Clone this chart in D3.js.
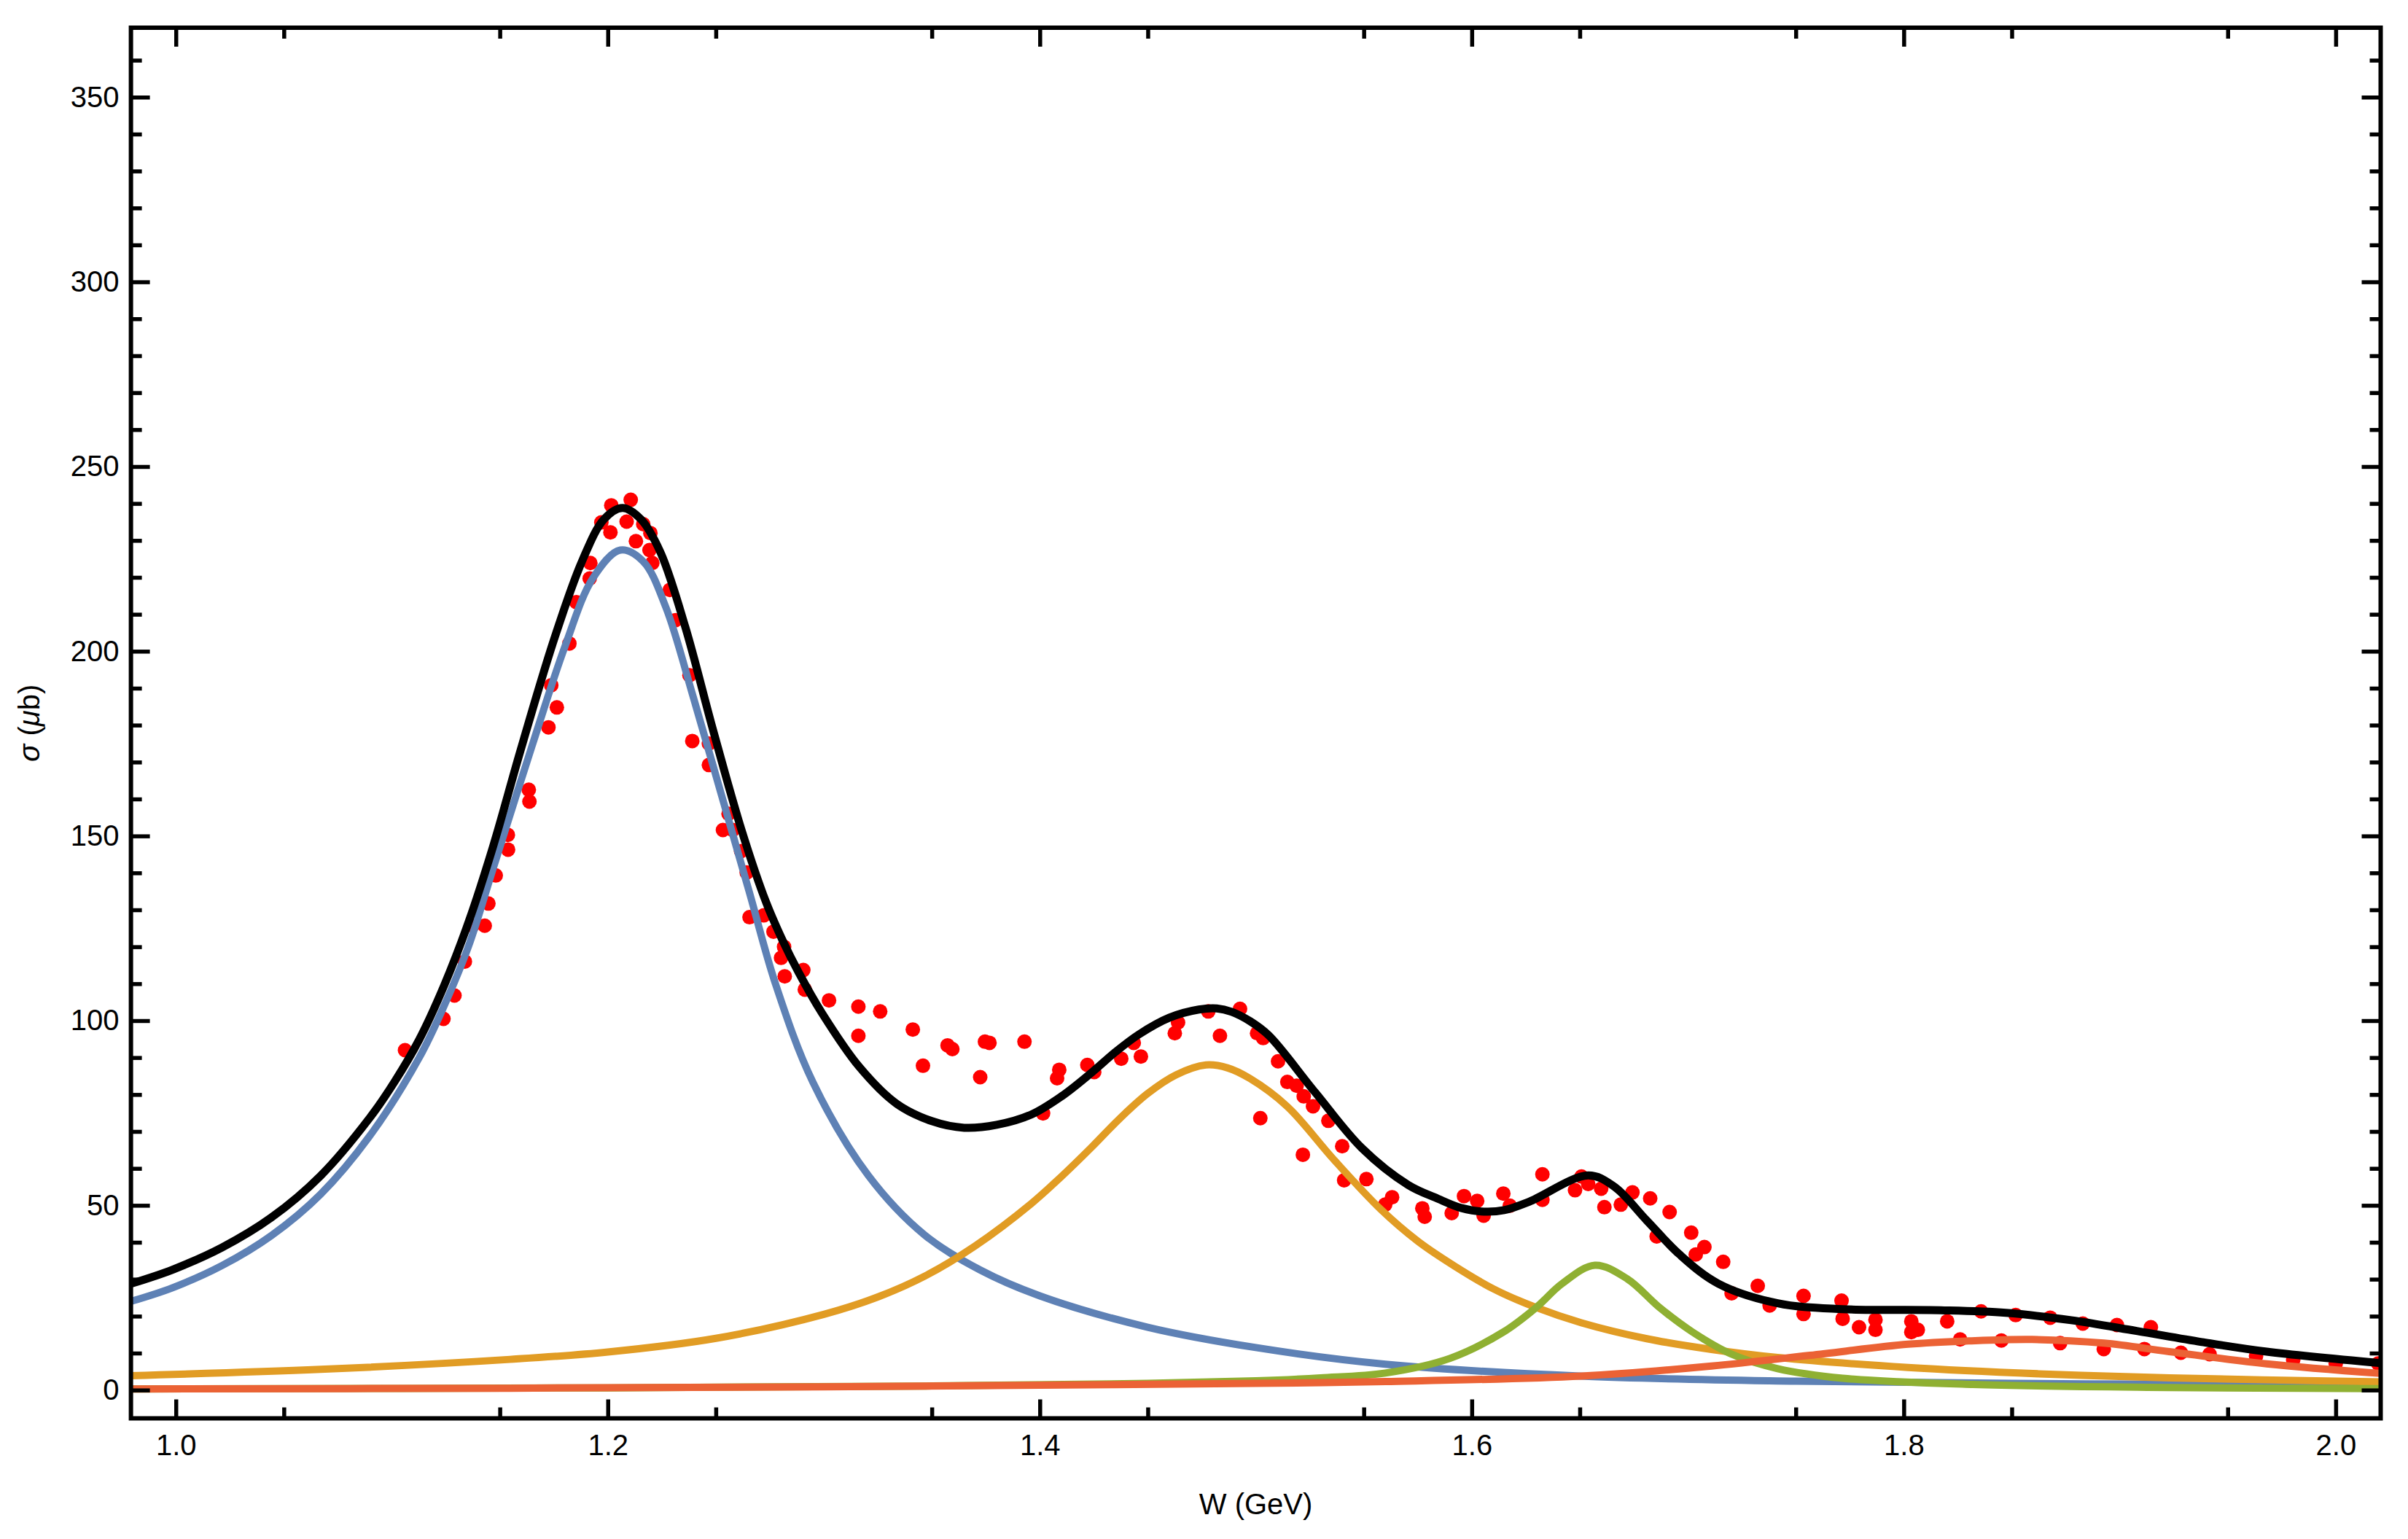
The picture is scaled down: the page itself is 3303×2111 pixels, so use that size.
<!DOCTYPE html>
<html>
<head>
<meta charset="utf-8">
<script src="https://cdn.jsdelivr.net/npm/d3@7"></script>
<style>
body { margin: 0; background: #fff; }
svg { display: block; font-family: "Liberation Sans", Arial, sans-serif; }
</style>
</head>
<body>
<div id="chart"></div>
<script>
// measured cross section, W in GeV, sigma in microbarn
var dataW = [
  1.1061, 1.1239, 1.129, 1.1338, 1.1373, 1.143, 1.1447, 1.1481, 1.1538, 1.1537,
  1.1634, 1.1637, 1.1725, 1.1738, 1.1764, 1.1822, 1.1854, 1.1916, 1.1919, 1.197,
  1.2012, 1.2016, 1.2087, 1.2106, 1.213, 1.2164, 1.2193, 1.2197, 1.2206, 1.2287,
  1.2313, 1.2378, 1.2391, 1.2468, 1.2468, 1.2533, 1.2559, 1.2578, 1.2617, 1.2643,
  1.2656, 1.2722, 1.2767, 1.2816,
  1.2802, 1.2819, 1.2905, 1.2912, 1.3024, 1.316, 1.3261, 1.3412, 1.316, 1.3573,
  1.3595, 1.3746, 1.3767, 1.3929, 1.3459, 1.3724, 1.409, 1.408, 1.422, 1.4252,
  1.4377, 1.4435, 1.4468, 1.4015, 1.464, 1.4625, 1.478, 1.4927, 1.4834, 1.5006,
  1.5034, 1.5103, 1.5146, 1.5189, 1.5222, 1.5265, 1.5336, 1.5021, 1.54, 1.5218,
  1.5409, 1.5512, 1.5631, 1.5599, 1.5771, 1.5782, 1.5907,
  1.5964, 1.6025, 1.6055, 1.6146, 1.6176, 1.6327, 1.6327, 1.6478, 1.6508, 1.6539,
  1.6599, 1.6614, 1.669, 1.6744, 1.6826, 1.6856, 1.6916, 1.7016, 1.7077, 1.7037,
  1.7164, 1.7203, 1.7324, 1.7379, 1.7536, 1.7536, 1.7712, 1.7717, 1.7793, 1.7869,
  1.7869, 1.8035, 1.8035, 1.8065, 1.8201, 1.8261, 1.8358, 1.8452, 1.8518, 1.8678,
  1.8724, 1.8829, 1.8926, 1.8987, 1.9114, 1.9144, 1.9283, 1.9416, 1.9631, 1.9803,
  2.0, 2.0196
];
var dataSigma = [
  92, 100.5, 106.8, 116, 125.7, 125.7, 131.7, 139.3, 146.3, 150.3,
  162.5, 159.3, 179.4, 190.8, 184.8, 202.1, 213.3, 219.7, 223.9, 234.9,
  232.2, 239.5, 235.1, 241.0, 229.8, 234.4, 227.4, 232, 223.9, 216.6,
  208.4, 193.5, 175.7, 175, 169.2, 151.6, 156, 151.6, 145.9, 140.1,
  128, 128.5, 124.1, 120,
  117, 112, 113.7, 108.4, 105.5, 103.8, 102.5, 97.6, 95.9, 93.3,
  92.3, 94.3, 94, 94.3, 87.8, 84.7, 86.7, 84.4, 88, 86.1,
  89.7, 94, 90.3, 74.9, 99.5, 96.6, 102.5, 103.2, 95.9, 96.6,
  95.3, 89, 83.4, 82.4, 79.5, 76.8, 72.9, 73.6, 66, 63.7,
  56.8, 57.1, 52.2, 50.2, 49.2, 46.9, 47.9,
  52.5, 51.2, 47.2, 53.2, 49.9, 58.4, 51.5, 54.1, 57.8, 55.8,
  54.5, 49.5, 50.2, 53.5, 51.9, 41.6, 48.2, 42.6, 38.7, 36.7,
  34.7, 26.2, 28.2, 22.9, 25.5, 20.6, 24.2, 19.3, 17, 19,
  16.3, 18.6, 15.7, 16.3, 18.6, 13.7, 21.3, 13.4, 20.3, 19.6,
  12.7, 18, 11.1, 17.6, 11.1, 17, 10.1, 9.7, 9.2, 8.2,
  7.2, 7.2
];

// full fit (black)
var totalW = [0.9792, 0.9985, 1.0214, 1.0442, 1.067, 1.0899, 1.1013, 1.1127, 1.1242, 1.1356,
  1.147, 1.1596, 1.1751, 1.188, 1.1983, 1.2068, 1.2152, 1.2242, 1.2358, 1.2488,
  1.2617, 1.2733, 1.2811, 1.2884, 1.2992, 1.3164, 1.3337, 1.35, 1.365, 1.38,
  1.3961, 1.41, 1.4241, 1.435, 1.4457, 1.46, 1.4736, 1.482, 1.4888, 1.4975,
  1.506, 1.5276, 1.5491, 1.5706, 1.5843, 1.595, 1.6055, 1.615, 1.6266, 1.6539,
  1.6659, 1.681, 1.6962, 1.7142, 1.7416, 1.7717, 1.8171, 1.8473, 1.8775, 1.9078,
  1.938, 1.968, 2.0208];
var totalSigma = [28.8, 32.6, 38.6, 46.7, 58.0, 73.8, 83.5, 94.9, 109.5, 126.8,
  147.4, 173.2, 203.2, 224.3, 235.8, 238.8, 235.8, 227, 206.7, 178.5,
  152, 132, 121.5, 113, 102, 87.5, 77.5, 72.8, 71.0, 71.8,
  74.6, 79.5, 86, 91.5, 96.2, 100.8, 103, 103.3, 102.4, 99.8,
  96, 80.5, 65.5, 55.5, 51.8, 49.3, 48.3, 48.7, 51, 58.1,
  55.1, 45.9, 36.7, 28.8, 23.5, 21.9, 21.6, 20.9, 18.9, 16,
  13, 10.4, 7.3];

// Delta(1232) (blue)
var deltaW = [0.9792, 0.9985, 1.0214, 1.0442, 1.067, 1.0899, 1.1127, 1.1242, 1.1356, 1.147,
  1.1647, 1.1802, 1.1932, 1.2058, 1.2164, 1.2268, 1.2397, 1.2527, 1.2656, 1.2776,
  1.2949, 1.3207, 1.3466, 1.3724, 1.40, 1.45, 1.50, 1.56, 1.65, 1.75,
  1.85, 1.95, 2.0208];
var deltaSigma = [24, 27.7, 33.7, 41.8, 53.0, 68.9, 90, 104, 120.3, 141.4,
  174, 201.4, 219.9, 227.4, 224.3, 212, 187.3, 160.9, 134.6, 110,
  83.4, 58, 42, 32.5, 25.5, 17, 11.5, 7, 3.8, 2.4,
  1.8, 1.5, 1.3];

// N(1440) (orange)
var roperW = [0.9792, 1.067, 1.1547, 1.2, 1.25, 1.3, 1.325, 1.3466, 1.37, 1.3961,
  1.41, 1.4241, 1.437, 1.45, 1.463, 1.4769, 1.487, 1.4974, 1.5145, 1.5361,
  1.5577, 1.575, 1.5922, 1.61, 1.63, 1.6508, 1.681, 1.711, 1.7416, 1.802,
  1.8625, 1.923, 2.0208];
var roperSigma = [3.9, 5.6, 8.3, 10.3, 14, 20.5, 25.2, 30.8, 39, 50.5,
  57.8, 65.8, 73.5, 80.3, 85.3, 88, 87.2, 84.3, 76.8, 62.4,
  49, 40.3, 33.5, 27.4, 22.3, 18.2, 13.9, 11, 8.8, 6.1,
  4.4, 3.3, 2.2];

// N(1650) (green)
var n1650W = [0.9792, 1.2, 1.35, 1.45, 1.5, 1.53, 1.56, 1.59, 1.6146, 1.6297,
  1.6418, 1.657, 1.672, 1.687, 1.7022, 1.7203, 1.7416, 1.7717, 1.832, 1.923, 2.0208];
var n1650Sigma = [0.3, 0.6, 1.1, 1.8, 2.5, 3.3, 4.6, 8.6, 15.7, 22.3,
  28.8, 33.8, 30.1, 22.3, 15.7, 9.7, 5.8, 3.2, 1.5, 0.7, 0.4];

// high mass state (red-orange)
var highW = [0.9792, 1.155, 1.3, 1.4, 1.5, 1.5601, 1.6508, 1.711, 1.7566, 1.802,
  1.83, 1.8594, 1.8926, 1.9229, 1.968, 2.0208];
var highSigma = [0.3, 0.5, 0.9, 1.3, 1.8, 2.3, 3.8, 6.5, 9.4, 12.4,
  13.3, 13.7, 12.7, 10.4, 7.1, 4.5];

var xTickValues = [1.0, 1.2, 1.4, 1.6, 1.8, 2.0];
var xTickLabels = ["1.0", "1.2", "1.4", "1.6", "1.8", "2.0"];
var yTickValues = [0, 50, 100, 150, 200, 250, 300, 350];
var yTickLabels = ["0", "50", "100", "150", "200", "250", "300", "350"];

var width = 3303, height = 2111;
var frameLeft = 179.6, frameRight = 3265.5, frameTop = 38, frameBottom = 1945.5;

var svg = d3.select("#chart").append("svg")
    .attr("width", width)
    .attr("height", height);

var x = d3.scaleLinear().domain([0.9792, 2.0208]).range([frameLeft, frameRight]);
var y = d3.scaleLinear().domain([-7.66, 368.8]).range([frameBottom, frameTop]);

svg.append("clipPath").attr("id", "plotclip")
  .append("rect")
    .attr("x", frameLeft).attr("y", frameTop)
    .attr("width", frameRight - frameLeft).attr("height", frameBottom - frameTop);

var plot = svg.append("g").attr("clip-path", "url(#plotclip)");

// points first, curves on top
plot.selectAll("circle")
  .data(dataW.map((w, i) => [w, dataSigma[i]]))
  .join("circle")
    .attr("cx", d => x(d[0]))
    .attr("cy", d => y(d[1]))
    .attr("r", 10)
    .attr("fill", "#ff0000");

var line = d3.line()
    .x(d => x(d[0]))
    .y(d => y(d[1]))
    .curve(d3.curveCatmullRom.alpha(0.5));

var curves = [
  {w: deltaW, s: deltaSigma, color: "#5e81b5", sw: 10},
  {w: roperW, s: roperSigma, color: "#e19c24", sw: 10},
  {w: n1650W, s: n1650Sigma, color: "#8fb032", sw: 10},
  {w: highW, s: highSigma, color: "#eb6235", sw: 10},
  {w: totalW, s: totalSigma, color: "#000000", sw: 11}
];

curves.forEach(function(c) {
  plot.append("path")
    .datum(c.w.map((w, i) => [w, c.s[i]]))
    .attr("fill", "none")
    .attr("stroke", c.color)
    .attr("stroke-width", c.sw)
    .attr("stroke-linejoin", "round")
    .attr("d", line);
});

// ticks, all pointing inwards
var xMinor = d3.range(1.05, 2.0, 0.1).map(v => +v.toFixed(2));
var yMinor = d3.range(10, 370, 10).filter(v => v % 50 != 0);

function styleAxis(g) {
  g.select(".domain").remove();
  g.selectAll(".tick line").attr("stroke", "#000").attr("stroke-width", 5.5);
  g.selectAll(".tick text").attr("fill", "#000").style("font-size", "40px");
}

svg.append("g")
    .attr("transform", "translate(0," + frameBottom + ")")
    .call(d3.axisBottom(x).tickValues(xTickValues)
      .tickFormat((d, i) => xTickLabels[i]).tickSize(-26).tickPadding(22))
    .call(styleAxis);
svg.append("g")
    .attr("transform", "translate(0," + frameBottom + ")")
    .call(d3.axisBottom(x).tickValues(xMinor).tickFormat("").tickSize(-15))
    .call(styleAxis);
svg.append("g")
    .attr("transform", "translate(0," + frameTop + ")")
    .call(d3.axisTop(x).tickValues(xTickValues).tickFormat("").tickSize(-26))
    .call(styleAxis);
svg.append("g")
    .attr("transform", "translate(0," + frameTop + ")")
    .call(d3.axisTop(x).tickValues(xMinor).tickFormat("").tickSize(-15))
    .call(styleAxis);

svg.append("g")
    .attr("transform", "translate(" + frameLeft + ",0)")
    .call(d3.axisLeft(y).tickValues(yTickValues)
      .tickFormat((d, i) => yTickLabels[i]).tickSize(-26).tickPadding(16))
    .call(styleAxis);
svg.append("g")
    .attr("transform", "translate(" + frameLeft + ",0)")
    .call(d3.axisLeft(y).tickValues(yMinor).tickFormat("").tickSize(-15))
    .call(styleAxis);
svg.append("g")
    .attr("transform", "translate(" + frameRight + ",0)")
    .call(d3.axisRight(y).tickValues(yTickValues).tickFormat("").tickSize(-26))
    .call(styleAxis);
svg.append("g")
    .attr("transform", "translate(" + frameRight + ",0)")
    .call(d3.axisRight(y).tickValues(yMinor).tickFormat("").tickSize(-15))
    .call(styleAxis);

// frame
svg.append("rect")
    .attr("x", frameLeft).attr("y", frameTop)
    .attr("width", frameRight - frameLeft).attr("height", frameBottom - frameTop)
    .attr("fill", "none")
    .attr("stroke", "#000")
    .attr("stroke-width", 6);

// axis titles
svg.append("text")
    .attr("x", (frameLeft + frameRight) / 2)
    .attr("y", 2077)
    .attr("text-anchor", "middle")
    .style("font-size", "40px")
    .text("W (GeV)");

var ylab = svg.append("text")
    .attr("transform", "translate(54," + (frameTop + frameBottom) / 2 + ") rotate(-90)")
    .attr("text-anchor", "middle")
    .style("font-size", "40px");
ylab.append("tspan").style("font-style", "italic").text("σ");
ylab.append("tspan").text(" (");
ylab.append("tspan").style("font-style", "italic").text("μ");
ylab.append("tspan").text("b)");
</script>
</body>
</html>
